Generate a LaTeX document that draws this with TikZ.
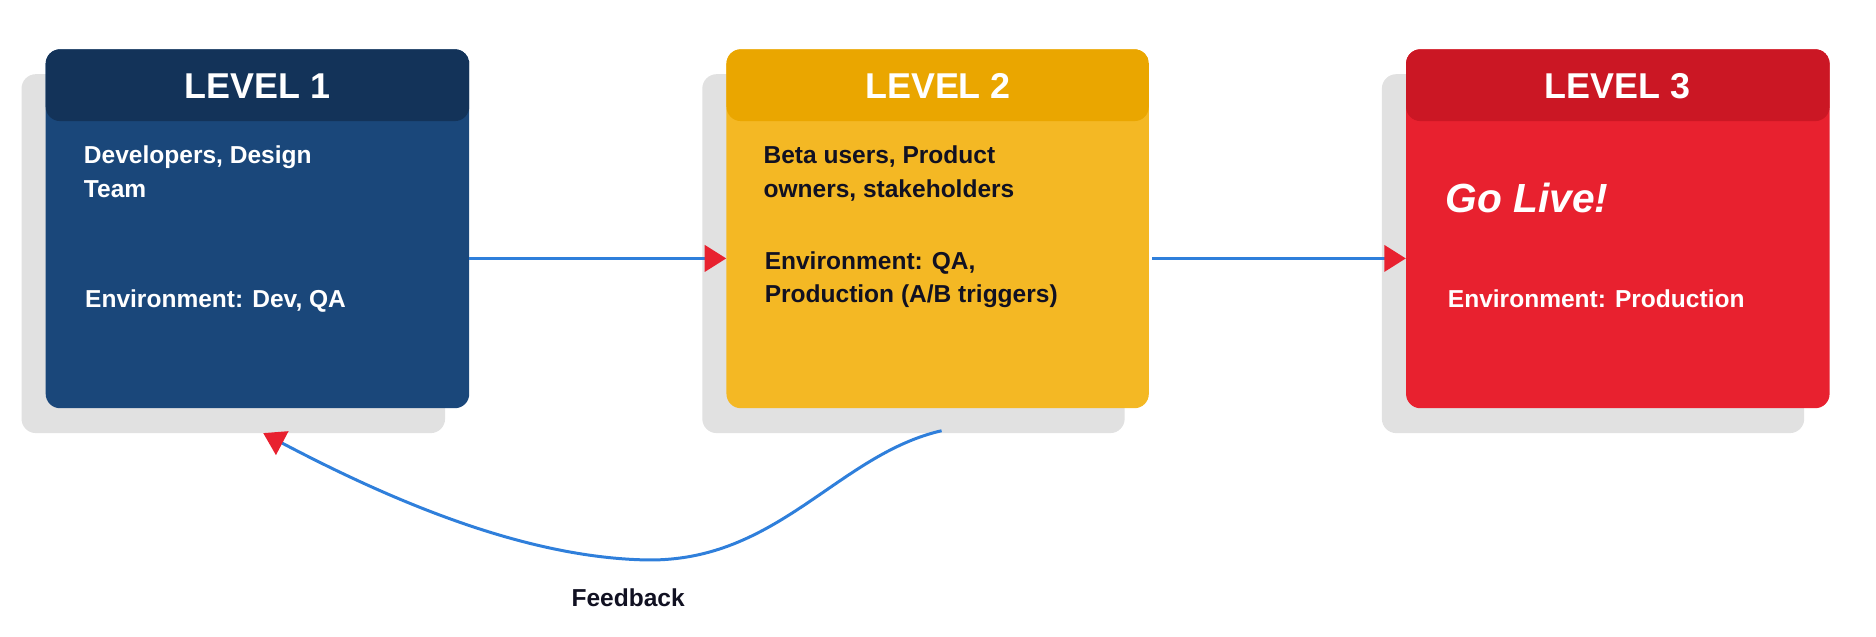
\documentclass[tikz,border=0pt]{standalone}
\usepackage{fontspec}
\setmainfont{Liberation Sans}
\usetikzlibrary{arrows.meta}
\definecolor{hA}{HTML}{133359}\definecolor{bA}{HTML}{1A477A}
\definecolor{hB}{HTML}{EAA600}\definecolor{bB}{HTML}{F4B824}
\definecolor{hC}{HTML}{CB1724}\definecolor{bC}{HTML}{E8212F}
\definecolor{shd}{HTML}{E1E1E1}\definecolor{ln}{HTML}{2F7FDB}
\definecolor{tip}{HTML}{E8212F}\definecolor{dk}{HTML}{111122}
\begin{document}
\begin{tikzpicture}[x=1pt,y=1pt,
 box/.style={rectangle,rounded corners=12pt,minimum width=354pt,minimum height=300pt,inner sep=0pt,anchor=north west},
 hdr/.style={path picture={\fill[#1] (path picture bounding box.north west) rectangle ([yshift=-60pt]path picture bounding box.north east);}},
 shadow/.style={fill=shd,rounded corners=12pt},
 ttl/.style={font=\bfseries\fontsize{30}{36}\selectfont,text=white},
 txt/.style={font=\bfseries\fontsize{20.5}{28}\selectfont,anchor=base west,align=left,inner sep=0pt},
 con/.style={draw=ln,line width=2.5pt,-{Triangle[length=18pt,width=22pt,color=tip]}}]
\useasboundingbox (0,0) rectangle (1568,-532);
\fill[shadow] (18,-62) rectangle (372,-362);
\fill[shadow] (587,-62) rectangle (940,-362);
\fill[shadow] (1155,-62) rectangle (1508,-362);
\node[box,fill=bA,hdr=hA] (b1) at (38,-41) {};
\node[box,fill=bB,hdr=hB,minimum width=353pt] (b2) at (607,-41) {};
\node[box,fill=bC,hdr=hC] (b3) at (1175,-41) {};
\node[ttl] (t1) at (215,-72) {LEVEL 1};
\node[ttl] (t2) at (784,-72) {LEVEL 2};
\node[ttl] (t3) at (1352,-72) {LEVEL 3};
\node[txt,text=white] (d1) at (70,-165) {Developers, Design\\Team};
\node[txt,text=white] (e1) at (71,-257) {Environment: Dev, QA};
\node[txt,text=dk] (d2) at (638,-165) {Beta users, Product\\owners, stakeholders};
\node[txt,text=dk] (e2) at (639,-253) {Environment: QA,\\Production (A/B triggers)};
\node[txt,text=white,font=\bfseries\itshape\fontsize{34}{40}\selectfont] (g3) at (1208,-178) {Go Live!};
\node[txt,text=white] (e3) at (1210,-257) {Environment: Production};
\node[txt,text=dk,anchor=base] (fb) at (525,-507) {Feedback};
\coordinate (s1) at (392,-216);
\coordinate (s2) at (963,-216);
\coordinate (fs) at (787,-360);
\coordinate (fe) at (220,-362);
\draw[con] (s1) -- (b2.west|-s1);
\draw[con] (s2) -- (b3.west|-s2);
\draw[con] (fs) .. controls (700,-380) and (650,-470) .. (540,-468) .. controls (440,-466) and (330,-420) .. (fe);
\end{tikzpicture}
\end{document}
